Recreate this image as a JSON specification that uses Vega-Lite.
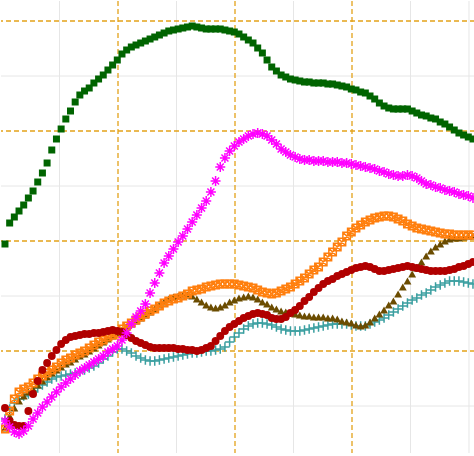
{
  "$schema": "https://vega.github.io/schema/vega-lite/v6.json",
  "width": 474,
  "height": 452,
  "padding": 0,
  "autosize": {"type": "pad"},
  "background": "white",
  "config": {"view": {"stroke": null}},
  "datasets": {
    "vmin": [{"gx": 0.5}, {"gx": 1.5}, {"gx": 2.5}, {"gx": 3.5}, {"gx": 4}],
    "vmaj": [{"gx": 1}, {"gx": 2}, {"gx": 3}],
    "hmin": [{"gy": 55}, {"gy": 165}, {"gy": 275}, {"gy": 385}],
    "hmaj": [{"gy": 110}, {"gy": 220}, {"gy": 330}, {"gy": 440}],
    "pts": [
      {"x":0.034,"g":217,"m":40,"o":32,"r":53,"b":33,"t":42},
      {"x":0.074,"g":238,"m":34,"o":50,"r":40,"b":45,"t":52},
      {"x":0.114,"g":244,"m":29,"o":62,"r":36,"b":53,"t":58},
      {"x":0.154,"g":250,"m":27,"o":69,"r":35,"b":60,"t":62},
      {"x":0.194,"g":256,"m":30,"o":72,"r":35,"b":65,"t":65},
      {"x":0.234,"g":263,"m":35,"o":74,"r":50,"b":69,"t":67},
      {"x":0.274,"g":270,"m":42,"o":78,"r":67,"b":72,"t":70},
      {"x":0.314,"g":279,"m":48,"o":82,"r":80,"b":76,"t":73},
      {"x":0.354,"g":288,"m":54,"o":85,"r":91,"b":80,"t":76},
      {"x":0.394,"g":298,"m":59,"o":88,"r":98,"b":84,"t":79},
      {"x":0.434,"g":311,"m":64,"o":91,"r":105,"b":88,"t":82},
      {"x":0.474,"g":322,"m":69,"o":94,"r":111,"b":91,"t":84},
      {"x":0.514,"g":332,"m":74,"o":98,"r":117,"b":94,"t":85},
      {"x":0.554,"g":342,"m":78,"o":101,"r":121,"b":97,"t":86},
      {"x":0.594,"g":350,"m":82,"o":103,"r":124,"b":99,"t":87},
      {"x":0.634,"g":359,"m":86,"o":106,"r":125,"b":102,"t":88},
      {"x":0.674,"g":366,"m":90,"o":108,"r":126,"b":105,"t":89},
      {"x":0.714,"g":370,"m":93,"o":110,"r":127,"b":107,"t":91},
      {"x":0.754,"g":373,"m":96,"o":113,"r":127,"b":110,"t":93},
      {"x":0.794,"g":378,"m":99,"o":116,"r":128,"b":113,"t":95},
      {"x":0.834,"g":382,"m":102,"o":119,"r":128,"b":116,"t":98},
      {"x":0.874,"g":386,"m":105,"o":121,"r":129,"b":119,"t":102},
      {"x":0.914,"g":391,"m":109,"o":124,"r":130,"b":122,"t":105},
      {"x":0.954,"g":396,"m":112,"o":126,"r":131,"b":125,"t":109},
      {"x":0.994,"g":401,"m":115,"o":128,"r":130,"b":128,"t":112},
      {"x":1.034,"g":407,"m":121,"o":132,"r":129,"b":131,"t":112},
      {"x":1.074,"g":411,"m":128,"o":135,"r":126,"b":134,"t":110},
      {"x":1.114,"g":414,"m":137,"o":138,"r":123,"b":137,"t":108},
      {"x":1.154,"g":416,"m":144,"o":141,"r":120,"b":140,"t":105},
      {"x":1.194,"g":418,"m":150,"o":144,"r":118,"b":143,"t":103},
      {"x":1.234,"g":420,"m":157,"o":147,"r":116,"b":146,"t":101},
      {"x":1.274,"g":422,"m":168,"o":150,"r":114,"b":149,"t":100},
      {"x":1.314,"g":424,"m":178,"o":152,"r":113,"b":152,"t":100},
      {"x":1.354,"g":426,"m":188,"o":155,"r":113,"b":156,"t":101},
      {"x":1.394,"g":428,"m":198,"o":158,"r":113,"b":159,"t":102},
      {"x":1.434,"g":430,"m":205,"o":160,"r":113,"b":162,"t":103},
      {"x":1.474,"g":431,"m":212,"o":162,"r":113,"b":164,"t":104},
      {"x":1.514,"g":432,"m":219,"o":163,"r":112,"b":165,"t":105},
      {"x":1.554,"g":433,"m":225,"o":165,"r":112,"b":166,"t":106},
      {"x":1.594,"g":434,"m":232,"o":167,"r":111,"b":166,"t":107},
      {"x":1.634,"g":435,"m":239,"o":170,"r":111,"b":165,"t":108},
      {"x":1.674,"g":434,"m":246,"o":171,"r":110,"b":162,"t":108},
      {"x":1.714,"g":433,"m":253,"o":172,"r":111,"b":159,"t":109},
      {"x":1.754,"g":432,"m":260,"o":174,"r":113,"b":156,"t":110},
      {"x":1.794,"g":432,"m":269,"o":175,"r":115,"b":154,"t":110},
      {"x":1.834,"g":432,"m":280,"o":176,"r":120,"b":153,"t":111},
      {"x":1.874,"g":432,"m":294,"o":177,"r":125,"b":154,"t":112},
      {"x":1.914,"g":431,"m":303,"o":177,"r":130,"b":156,"t":114},
      {"x":1.954,"g":430,"m":310,"o":177,"r":134,"b":159,"t":119},
      {"x":1.994,"g":429,"m":315,"o":177,"r":137,"b":161,"t":124},
      {"x":2.034,"g":427,"m":319,"o":176,"r":140,"b":163,"t":128},
      {"x":2.074,"g":424,"m":322,"o":175,"r":143,"b":164,"t":132},
      {"x":2.114,"g":421,"m":325,"o":174,"r":145,"b":165,"t":135},
      {"x":2.154,"g":418,"m":327,"o":173,"r":147,"b":164,"t":137},
      {"x":2.194,"g":413,"m":328,"o":171,"r":148,"b":162,"t":138},
      {"x":2.234,"g":408,"m":327,"o":169,"r":147,"b":159,"t":138},
      {"x":2.274,"g":401,"m":325,"o":168,"r":146,"b":157,"t":137},
      {"x":2.314,"g":394,"m":321,"o":167,"r":143,"b":154,"t":136},
      {"x":2.354,"g":390,"m":317,"o":168,"r":142,"b":152,"t":134},
      {"x":2.394,"g":386,"m":312,"o":170,"r":142,"b":150,"t":132},
      {"x":2.434,"g":384,"m":309,"o":172,"r":144,"b":149,"t":131},
      {"x":2.474,"g":382,"m":306,"o":174,"r":148,"b":148,"t":130},
      {"x":2.514,"g":381,"m":304,"o":177,"r":151,"b":147,"t":130},
      {"x":2.554,"g":380,"m":302,"o":180,"r":155,"b":146,"t":130},
      {"x":2.594,"g":379,"m":301,"o":183,"r":160,"b":145,"t":131},
      {"x":2.634,"g":379,"m":301,"o":187,"r":164,"b":145,"t":132},
      {"x":2.674,"g":378,"m":300,"o":191,"r":169,"b":144,"t":133},
      {"x":2.714,"g":378,"m":300,"o":194,"r":173,"b":144,"t":134},
      {"x":2.754,"g":378,"m":300,"o":199,"r":177,"b":144,"t":135},
      {"x":2.794,"g":377,"m":299,"o":204,"r":180,"b":143,"t":136},
      {"x":2.834,"g":377,"m":299,"o":209,"r":182,"b":143,"t":137},
      {"x":2.874,"g":376,"m":299,"o":214,"r":185,"b":142,"t":137},
      {"x":2.914,"g":375,"m":298,"o":219,"r":187,"b":140,"t":137},
      {"x":2.954,"g":374,"m":298,"o":225,"r":189,"b":139,"t":137},
      {"x":2.994,"g":372,"m":297,"o":229,"r":191,"b":138,"t":136},
      {"x":3.034,"g":371,"m":296,"o":233,"r":193,"b":136,"t":135},
      {"x":3.074,"g":369,"m":295,"o":236,"r":194,"b":135,"t":135},
      {"x":3.114,"g":368,"m":294,"o":239,"r":195,"b":136,"t":135},
      {"x":3.154,"g":365,"m":293,"o":241,"r":194,"b":139,"t":137},
      {"x":3.194,"g":362,"m":292,"o":243,"r":192,"b":143,"t":139},
      {"x":3.234,"g":358,"m":290,"o":244,"r":190,"b":147,"t":141},
      {"x":3.274,"g":355,"m":289,"o":245,"r":190,"b":151,"t":143},
      {"x":3.314,"g":353,"m":287,"o":245,"r":191,"b":156,"t":146},
      {"x":3.354,"g":352,"m":286,"o":244,"r":192,"b":160,"t":149},
      {"x":3.394,"g":352,"m":285,"o":242,"r":193,"b":167,"t":152},
      {"x":3.434,"g":352,"m":285,"o":240,"r":194,"b":174,"t":155},
      {"x":3.474,"g":352,"m":286,"o":237,"r":195,"b":180,"t":158},
      {"x":3.514,"g":350,"m":285,"o":235,"r":194,"b":187,"t":161},
      {"x":3.554,"g":348,"m":283,"o":233,"r":193,"b":193,"t":163},
      {"x":3.594,"g":346,"m":280,"o":232,"r":192,"b":199,"t":166},
      {"x":3.634,"g":345,"m":277,"o":231,"r":191,"b":205,"t":168},
      {"x":3.674,"g":343,"m":276,"o":230,"r":190,"b":210,"t":171},
      {"x":3.714,"g":342,"m":274,"o":229,"r":190,"b":214,"t":174},
      {"x":3.754,"g":339,"m":273,"o":228,"r":190,"b":217,"t":176},
      {"x":3.794,"g":337,"m":271,"o":227,"r":190,"b":220,"t":178},
      {"x":3.834,"g":334,"m":270,"o":227,"r":191,"b":222,"t":180},
      {"x":3.874,"g":331,"m":269,"o":226,"r":192,"b":223,"t":180},
      {"x":3.914,"g":328,"m":267,"o":226,"r":194,"b":223,"t":180},
      {"x":3.954,"g":326,"m":266,"o":226,"r":195,"b":224,"t":179},
      {"x":3.994,"g":324,"m":265,"o":226,"r":197,"b":225,"t":178},
      {"x":4.034,"g":322,"m":263,"o":226,"r":199,"b":225,"t":177}
    ]
  },
  "layer": [
    {
      "data": {"name": "vmin"},
      "mark": {"type": "rule", "color": "#e6e6e6", "strokeWidth": 1},
      "encoding": {
        "x": {"field": "gx", "type": "quantitative",
              "scale": {"domain": [0, 4.0513], "nice": false, "zero": false},
              "axis": {"values": [1, 2, 3, 4], "labels": false, "title": null, "grid": false,
                       "ticks": true, "tickSize": 4, "tickColor": "#222", "tickWidth": 1.2,
                       "domain": true, "domainColor": "#222", "domainWidth": 1.3, "minExtent": 0, "offset": 0}}
      }
    },
    {
      "data": {"name": "hmin"},
      "mark": {"type": "rule", "color": "#e6e6e6", "strokeWidth": 1},
      "encoding": {
        "y": {"field": "gy", "type": "quantitative",
              "scale": {"domain": [8, 460], "nice": false, "zero": false}, "axis": null}
      }
    },
    {
      "data": {"name": "vmaj"},
      "mark": {"type": "rule", "color": "#E3A21A", "strokeWidth": 1.3, "strokeDash": [5, 3]},
      "encoding": {
        "x": {"field": "gx", "type": "quantitative", "axis": null}
      }
    },
    {
      "data": {"name": "hmaj"},
      "mark": {"type": "rule", "color": "#E3A21A", "strokeWidth": 1.3, "strokeDash": [5, 3]},
      "encoding": {
        "y": {"field": "gy", "type": "quantitative", "axis": null}
      }
    },
    {
      "data": {"name": "pts"},
      "mark": {"type": "point", "shape": "M-1,0L1,0M0,-1L0,1", "filled": false, "color": "#3A9FA0", "strokeWidth": 1.5, "size": 90, "opacity": 1, "clip": true},
      "encoding": {
        "x": {"field": "x", "type": "quantitative", "axis": null},
        "y": {"field": "t", "type": "quantitative", "axis": null}
      }
    },
    {
      "data": {"name": "pts"},
      "mark": {"type": "point", "shape": "triangle-up", "filled": true, "color": "#6B4C00", "size": 62, "opacity": 1, "clip": true},
      "encoding": {
        "x": {"field": "x", "type": "quantitative", "axis": null},
        "y": {"field": "b", "type": "quantitative", "axis": null}
      }
    },
    {
      "data": {"name": "pts"},
      "mark": {"type": "point", "shape": "M-1,-1L1,-1L1,1L-1,1ZM-1,-1L1,1M-1,1L1,-1", "filled": false, "color": "#FF7F0E", "strokeWidth": 1.5, "size": 56, "opacity": 1, "clip": true},
      "encoding": {
        "x": {"field": "x", "type": "quantitative", "axis": null},
        "y": {"field": "o", "type": "quantitative", "axis": null}
      }
    },
    {
      "data": {"name": "pts"},
      "mark": {"type": "point", "shape": "circle", "filled": true, "color": "#B00000", "size": 62, "opacity": 1, "clip": true},
      "encoding": {
        "x": {"field": "x", "type": "quantitative", "axis": null},
        "y": {"field": "r", "type": "quantitative", "axis": null}
      }
    },
    {
      "data": {"name": "pts"},
      "mark": {"type": "point", "shape": "M-1,0L1,0M0,-1L0,1M-0.7,-0.7L0.7,0.7M-0.7,0.7L0.7,-0.7", "filled": false, "color": "#FF00FF", "strokeWidth": 1.5, "size": 100, "opacity": 1, "clip": true},
      "encoding": {
        "x": {"field": "x", "type": "quantitative", "axis": null},
        "y": {"field": "m", "type": "quantitative", "axis": null}
      }
    },
    {
      "data": {"name": "pts"},
      "mark": {"type": "point", "shape": "square", "filled": true, "color": "#006400", "size": 49, "opacity": 1, "clip": true},
      "encoding": {
        "x": {"field": "x", "type": "quantitative", "axis": null},
        "y": {"field": "g", "type": "quantitative", "axis": null}
      }
    }
  ]
}
